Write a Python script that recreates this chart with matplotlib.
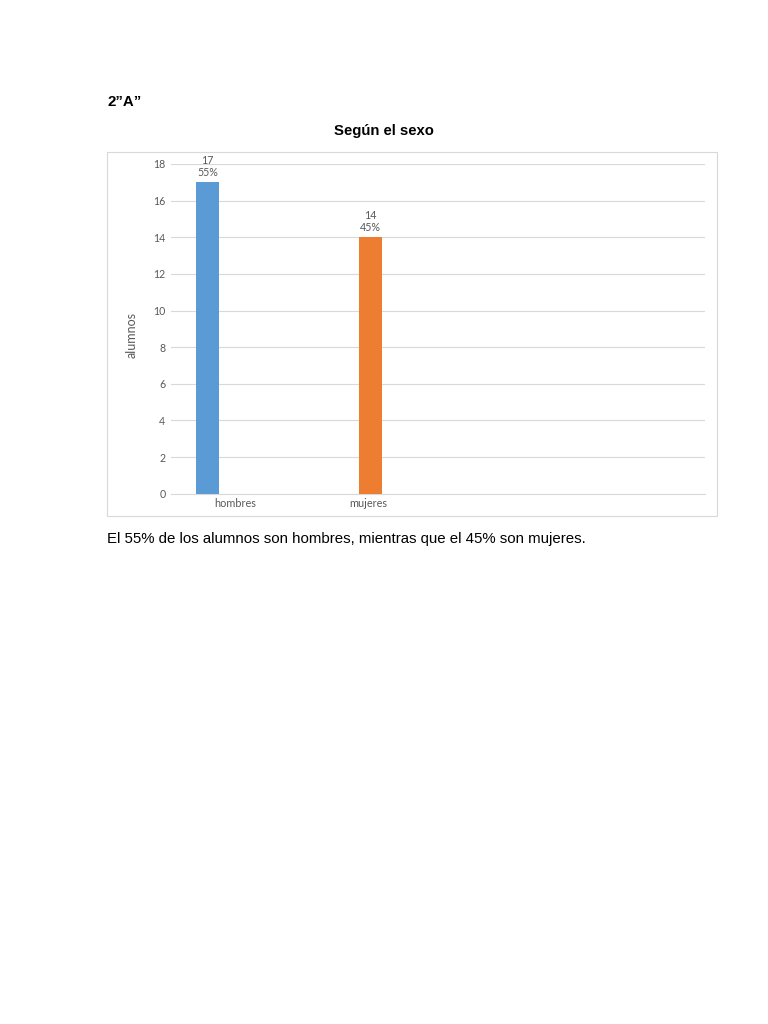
import matplotlib
matplotlib.use("Agg")
import matplotlib.pyplot as plt
from matplotlib.patches import Rectangle

categories = ["hombres", "mujeres"]
values = [17, 14]
percents = ["55%", "45%"]
colors = ["#5B9BD5", "#ED7D31"]
yticks = [0, 2, 4, 6, 8, 10, 12, 14, 16, 18]

W, H = 768, 1024
fig = plt.figure(figsize=(W / 100, H / 100), dpi=100)

def fx(px):
    return px / W

def fy(py):
    return 1 - py / H

# chart border
fig.patches.append(Rectangle((fx(107), fy(516)), fx(717) - fx(107), fy(152) - fy(516),
                             transform=fig.transFigure, fill=False, edgecolor="#d9d9d9", lw=0.8))

ax = fig.add_axes([fx(171), fy(493.7), fx(705) - fx(171), fy(164) - fy(493.7)])
ax.set_ylim(0, 18)
ax.set_xlim(0, 4)

cat_pos = [0.48, 1.48]
bar_offsets = [-0.207, 0.016]
bar_w = 0.172
for i, (c, v) in enumerate(zip(categories, values)):
    x = cat_pos[i] + bar_offsets[i]
    ax.bar(x, v, width=bar_w, color=colors[i], zorder=3)
    ax.text(x, v + 0.22, f"{v}\n{percents[i]}", ha="center", va="bottom",
            fontsize=7.7, color="#595959", family="Lato", linespacing=1.1)

ax.set_yticks(yticks)
ax.set_yticklabels([str(t) for t in yticks], family="Lato", fontsize=7.6, color="#595959")
ax.set_xticks(cat_pos)
ax.set_xticklabels(categories, family="Lato", fontsize=7.8, color="#595959")
ax.tick_params(axis="y", length=0, pad=4)
ax.tick_params(axis="x", length=0, pad=3)
ax.grid(axis="y", color="#d9d9d9", lw=0.8, zorder=0)
for s in ["top", "right", "left"]:
    ax.spines[s].set_visible(False)
ax.spines["bottom"].set_color("#d9d9d9")
ax.spines["bottom"].set_linewidth(0.8)

fig.text(fx(132), fy(335), "alumnos", rotation=90, ha="center", va="center",
         family="Lato", fontsize=9, color="#595959")

fig.text(fx(107), fy(101.5), "2\u201dA\u201d", ha="left", va="center",
         family="Liberation Sans", fontsize=10.8, fontweight="bold", color="#000000")
fig.text(fx(384), fy(131.5), "Según el sexo", ha="center", va="center",
         family="Liberation Sans", fontsize=10.7, fontweight="bold", color="#000000")
fig.text(fx(107), fy(539.5), "El 55% de los alumnos son hombres, mientras que el 45% son mujeres.",
         ha="left", va="center", family="Liberation Sans", fontsize=10.8, color="#000000")

fig.savefig("out.png", dpi=100)
